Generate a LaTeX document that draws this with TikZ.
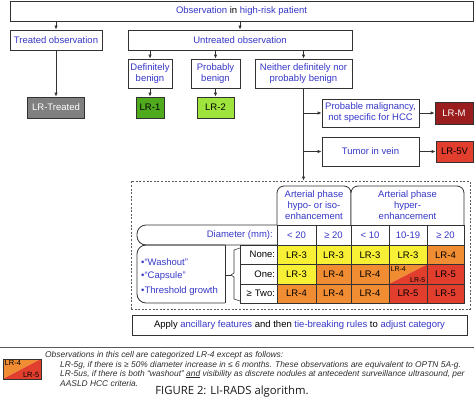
\documentclass[tikz,border=0pt]{standalone}
\usepackage{fontspec}
\setmainfont{Liberation Sans}
\newfontfamily\capfont{Open Sans}
\usetikzlibrary{arrows.meta}
\definecolor{txtblue}{RGB}{55,55,200}
\definecolor{lnc}{RGB}{50,50,50}
\definecolor{cyel}{RGB}{248,240,52}
\definecolor{corg}{RGB}{240,140,50}
\definecolor{cred}{RGB}{226,62,46}
\definecolor{cdred}{RGB}{155,30,30}
\definecolor{cgrn}{RGB}{80,170,30}
\definecolor{clgrn}{RGB}{158,228,60}
\definecolor{cgray}{RGB}{128,128,128}
\definecolor{fnote}{RGB}{45,45,45}
\begin{document}
\begin{tikzpicture}[x=1pt,y=-1pt,
  box/.style={draw=lnc, line width=0.8pt, fill=white, inner sep=0pt, align=center,
    font=\fontsize{9.5}{11}\selectfont, text=txtblue},
  lrbox/.style={draw=lnc, line width=0.8pt, inner sep=0pt, font=\fontsize{9.5}{11}\selectfont},
  arr/.style={draw=lnc, line width=0.8pt, -{Latex[length=4pt,width=3.5pt]}},
  ln/.style={draw=lnc, line width=0.8pt},
  cell/.style={draw=lnc, line width=0.6pt, inner sep=0pt, font=\fontsize{9.5}{11}\selectfont},
  blue/.style={text=txtblue, inner sep=0pt, font=\fontsize{9.5}{11}\selectfont, align=center},
  fn/.style={anchor=west, inner sep=0pt, text=fnote, font=\fontsize{8.4}{9}\selectfont\itshape}
]
\useasboundingbox (0,0) rectangle (474,405);

% ---- flowchart ----
\node[box, minimum width=463pt, minimum height=20pt] (top) at (241.5,11)
  {Observation {\color{black}in} high-risk patient};
\node[box, minimum width=92pt, minimum height=20pt] (treated) at (56,40) {Treated observation};
\node[box, minimum width=224pt, minimum height=20pt] (untreated) at (240,40) {Untreated observation};
\node[box, minimum width=44pt, minimum height=29pt] (defben) at (150,73.5) {Definitely\\benign};
\node[box, minimum width=49pt, minimum height=29pt] (probben) at (215.5,73.5) {Probably\\benign};
\node[box, minimum width=97pt, minimum height=29pt] (neither) at (303.5,73.5) {Neither definitely nor\\probably benign};
\node[lrbox, fill=cgray, text=white, minimum width=57pt, minimum height=21pt] (lrt) at (56,107.5) {LR-Treated};
\node[lrbox, fill=cgrn, text=black, minimum width=28pt, minimum height=21pt] (lr1) at (150,107.5) {LR-1};
\node[lrbox, fill=clgrn, text=black, minimum width=37pt, minimum height=21pt] (lr2) at (215.5,107.5) {LR-2};
\node[box, minimum width=97pt, minimum height=28pt] (probmal) at (370.5,113) {Probable malignancy,\\not specific for HCC};
\node[box, minimum width=97pt, minimum height=29pt] (tumor) at (370.5,151.5) {Tumor in vein};
\node[lrbox, fill=cdred, text=white, minimum width=38pt, minimum height=22pt] (lrm) at (454,113) {LR-M};
\node[lrbox, fill=cred, text=black, minimum width=37pt, minimum height=21pt] (lr5v) at (454.5,151.5) {LR-5V};
\node[draw=lnc!80, line width=0.8pt, dash pattern=on 2pt off 1.6pt, minimum width=339pt,
  minimum height=128pt, inner sep=0pt] (grid) at (300.5,245) {};
\node[box, text=black, minimum width=335pt, minimum height=20pt] (apply) at (299.5,325)
  {Apply {\color{txtblue}ancillary features} and then {\color{txtblue}tie-breaking rules} to {\color{txtblue}adjust category}};

\draw[arr] (treated.north |- top.south) -- (treated.north);
\draw[arr] (untreated.north |- top.south) -- (untreated.north);
\draw[arr] (treated.south) -- (lrt.north);
\draw[arr] (defben.north |- untreated.south) -- (defben.north);
\draw[arr] (probben.north |- untreated.south) -- (probben.north);
\draw[arr] (neither.north |- untreated.south) -- (neither.north);
\draw[arr] (defben.south) -- (lr1.north);
\draw[arr] (probben.south) -- (lr2.north);
\draw[arr] (neither.south) -- (neither.south |- grid.north);
\draw[arr] (neither.south |- probmal.west) -- (probmal.west);
\draw[arr] (neither.south |- tumor.west) -- (tumor.west);
\draw[arr] (probmal.east) -- (lrm.west);
\draw[arr] (tumor.east) -- (lr5v.west);

% ---- table ----
\draw[ln, fill=white, rounded corners=7pt] (277,225) -- (277,186) -- (351,186) -- (351,225);
\draw[ln, fill=white, rounded corners=7pt] (351,225) -- (351,186) -- (464,186) -- (464,225);
\node[blue] (hypo) at (314,205.5) {Arterial phase\\hypo- or iso-\\enhancement};
\node[blue] (hyper) at (407.5,205.5) {Arterial phase\\hyper-\\enhancement};
\draw[ln, rounded corners=9pt] (277,225) -- (137,225) -- (137,245) -- (277,245);
\node[blue, anchor=east] (diam) at (273,235) {Diameter (mm):};
\draw[ln, rounded corners=9pt] (225,245) -- (137,245) -- (137,303) -- (225,303);
\draw[ln] (225,245) -- (225,303);
\node[blue, anchor=west] (wash) at (141,262) {•“Washout”};
\node[blue, anchor=west] (caps) at (141,276.5) {•“Capsule”};
\node[blue, anchor=west] (thr) at (141,291) {•Threshold growth};
\draw[ln, line width=0.6pt] (240,248) -- (234,250) -- (234,273) -- (231,275) -- (234,277) -- (234,299) -- (240,301);
\draw[ln, line width=0.6pt] (225,275) -- (231,275);

\foreach \nm/\x/\w/\y/\h/\c/\t in {
  d1/296.5/39/235/20/white/{\color{txtblue}< 20},
  d2/333.5/35/235/20/white/{\color{txtblue}≥ 20},
  d3/370/38/235/20/white/{\color{txtblue}< 10},
  d4/408/38/235/20/white/{\color{txtblue}10-19},
  d5/445.5/37/235/20/white/{\color{txtblue}≥ 20},
  a1/296.5/39/254.75/19.5/cyel/LR-3,
  a2/333.5/35/254.75/19.5/cyel/LR-3,
  a3/370/38/254.75/19.5/cyel/LR-3,
  a4/408/38/254.75/19.5/cyel/LR-3,
  a5/445.5/37/254.75/19.5/corg/LR-4,
  b1/296.5/39/274.25/19.5/cyel/LR-3,
  b2/333.5/35/274.25/19.5/corg/LR-4,
  b3/370/38/274.25/19.5/corg/LR-4,
  b5/445.5/37/274.25/19.5/cred/LR-5,
  c1/296.5/39/293.5/19/corg/LR-4,
  c2/333.5/35/293.5/19/corg/LR-4,
  c3/370/38/293.5/19/corg/LR-4,
  c4/408/38/293.5/19/cred/LR-5,
  c5/445.5/37/293.5/19/cred/LR-5}
  {\node[cell, fill=\c, minimum width=\w pt, minimum height=\h pt] (\nm) at (\x,\y) {\t};}

\fill[corg] (389,284) -- (389,264.5) -- (427,264.5) -- cycle;
\fill[cred] (389,284) -- (427,264.5) -- (427,284) -- cycle;
\draw[draw=lnc, line width=0.6pt] (389,264.5) rectangle (427,284);
\node[anchor=north west, inner sep=0pt, font=\fontsize{7}{8}\selectfont] (b4a) at (390.5,266) {LR-4};
\node[anchor=south east, inner sep=0pt, font=\fontsize{7}{8}\selectfont] (b4b) at (425.5,283) {LR-5};

\foreach \nm/\y/\h/\t in {rn/254.75/19.5/None:, ro/274.25/19.5/One:, rt/293.5/19/≥ Two:}
  {\node[cell, fill=white, minimum width=37pt, minimum height=\h pt, text width=33pt, align=right] (\nm) at (258.5,\y) {\t};}

% ---- footnote ----
\draw[line width=0.8pt, draw=gray!70!black] (0,347) -- (474,347);
\fill[corg] (3,379) -- (3,359) -- (41,359) -- cycle;
\fill[cred] (3,379) -- (41,359) -- (41,379) -- cycle;
\draw[draw=lnc, line width=0.6pt] (3,359) rectangle (41,379);
\node[anchor=north west, inner sep=0pt, font=\fontsize{7.5}{8}\selectfont] (la) at (4.5,360.5) {LR-4};
\node[anchor=south east, inner sep=0pt, font=\fontsize{7.5}{8}\selectfont] (lb) at (39.5,378) {LR-5};
\node[fn] (f1) at (45,355.5) {Observations in this cell are categorized LR-4 except as follows:};
\node[fn] (f2) at (60,365) {LR-5g, if there is ≥ 50\% diameter increase in ≤ 6 months. These observations are equivalent to OPTN 5A-g.};
\node[fn] (f3) at (60,374) {LR-5us, if there is both “washout” \underline{and} visibility as discrete nodules at antecedent surveillance ultrasound, per};
\node[fn] (f4) at (60,383) {AASLD HCC criteria.};
\node[inner sep=0pt, text=black!90, font=\capfont\fontsize{11.3}{13}\selectfont] (cap) at (232,392) {FIGURE 2: LI-RADS algorithm.};
\end{tikzpicture}
\end{document}
